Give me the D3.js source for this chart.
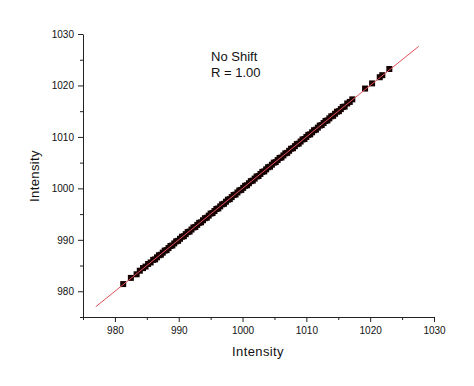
<!DOCTYPE html>
<html>
<head>
<meta charset="utf-8">
<script src="https://cdn.jsdelivr.net/npm/d3@7"></script>
<style>
body { margin: 0; background: #fff; }
text { font-family: "Liberation Sans", Arial, sans-serif; fill: #111; }
</style>
</head>
<body>
<svg width="474" height="386"></svg>
<script>
// measured intensity (x) vs reference intensity (y)
var xVals = [981.3, 982.5, 983.4, 983.9, 984.4, 984.8, 985.2, 985.6,
	986.0, 986.3, 986.6, 986.9, 987.2, 987.5, 987.8, 988.1, 988.4, 988.7,
	989.0, 989.3, 989.6, 989.9, 990.2, 990.5, 990.8, 991.1, 991.4, 991.7,
	992.0, 992.3, 992.6, 992.9, 993.2, 993.5, 993.8, 994.1, 994.4, 994.7,
	995.0, 995.3, 995.6, 995.9, 996.2, 996.5, 996.8, 997.1, 997.4, 997.7,
	998.0, 998.3, 998.6, 998.9, 999.2, 999.5, 999.8, 1000.1, 1000.4, 1000.7,
	1001.0, 1001.3, 1001.6, 1001.9, 1002.2, 1002.5, 1002.8, 1003.1, 1003.4, 1003.7,
	1004.0, 1004.3, 1004.6, 1004.9, 1005.2, 1005.5, 1005.8, 1006.1, 1006.4, 1006.7,
	1007.0, 1007.3, 1007.6, 1007.9, 1008.2, 1008.5, 1008.8, 1009.1, 1009.4, 1009.7,
	1010.0, 1010.3, 1010.6, 1010.9, 1011.2, 1011.5, 1011.8, 1012.1, 1012.4, 1012.7,
	1013.0, 1013.3, 1013.6, 1013.9, 1014.2, 1014.5, 1014.8, 1015.1, 1015.4, 1015.7,
	1016.0, 1016.4, 1016.8, 1017.2, 1019.2, 1020.3, 1021.5, 1021.9, 1023.0];
var yVals = [981.4, 982.6, 983.3, 984.0, 984.5, 984.8, 985.3, 985.6,
	986.1, 986.2, 986.6, 987.0, 987.1, 987.5, 987.9, 988.0, 988.4, 988.8,
	988.9, 989.3, 989.7, 989.8, 990.2, 990.6, 990.7, 991.1, 991.5, 991.6,
	992.0, 992.4, 992.5, 992.9, 993.3, 993.4, 993.8, 994.2, 994.3, 994.7,
	995.1, 995.2, 995.6, 996.0, 996.1, 996.5, 996.9, 997.0, 997.4, 997.8,
	997.9, 998.3, 998.7, 998.8, 999.2, 999.6, 999.7, 1000.1, 1000.5, 1000.6,
	1001.0, 1001.4, 1001.5, 1001.9, 1002.3, 1002.4, 1002.8, 1003.2, 1003.3, 1003.7,
	1004.1, 1004.2, 1004.6, 1005.0, 1005.1, 1005.5, 1005.9, 1006.0, 1006.4, 1006.8,
	1006.9, 1007.3, 1007.7, 1007.8, 1008.2, 1008.6, 1008.7, 1009.1, 1009.5, 1009.6,
	1010.0, 1010.4, 1010.5, 1010.9, 1011.3, 1011.4, 1011.8, 1012.2, 1012.3, 1012.7,
	1013.1, 1013.2, 1013.6, 1014.0, 1014.1, 1014.5, 1014.9, 1015.0, 1015.4, 1015.8,
	1015.9, 1016.5, 1016.8, 1017.3, 1019.4, 1020.4, 1021.6, 1022.0, 1023.2];
var fitLine = [977.0, 1027.6];
var majorTicks = [980, 990, 1000, 1010, 1020, 1030];
var minorTicks = [975, 985, 995, 1005, 1015, 1025];
var noteLines = ["No Shift", "R = 1.00"];

var svg = d3.select("svg");

var x = d3.scaleLinear().domain([975, 1030]).range([83, 434]);
var y = d3.scaleLinear().domain([975, 1030]).range([317, 34]);

var points = xVals.map(function (d, i) { return [d, yVals[i]]; });

// points
svg.append("g")
	.selectAll("rect")
	.data(points)
	.enter().append("rect")
	.attr("x", function (d) { return x(d[0]) - 3; })
	.attr("y", function (d) { return y(d[1]) - 3; })
	.attr("width", 6)
	.attr("height", 6)
	.style("fill", "#150000");

// fit line
svg.append("line")
	.attr("x1", x(fitLine[0]))
	.attr("y1", y(fitLine[0]))
	.attr("x2", x(fitLine[1]))
	.attr("y2", y(fitLine[1]))
	.style("stroke", "#e0505a")
	.style("stroke-width", 1);

// x axis
var xAxis = svg.append("g")
	.attr("transform", "translate(0,317)")
	.call(d3.axisBottom(x).tickValues(majorTicks).tickSize(5).tickSizeOuter(0).tickFormat(d3.format("d")));
svg.append("g")
	.attr("transform", "translate(0,317)")
	.call(d3.axisBottom(x).tickValues(minorTicks).tickSize(3).tickSizeOuter(0).tickFormat(""))
	.select(".domain").remove();

// y axis
var yAxis = svg.append("g")
	.attr("transform", "translate(83,0)")
	.call(d3.axisLeft(y).tickValues(majorTicks).tickSize(5).tickSizeOuter(0).tickFormat(d3.format("d")));
svg.append("g")
	.attr("transform", "translate(83,0)")
	.call(d3.axisLeft(y).tickValues(minorTicks).tickSize(3).tickSizeOuter(0).tickFormat(""))
	.select(".domain").remove();

svg.selectAll(".domain, .tick line").style("stroke", "#222");
svg.selectAll(".tick text")
	.style("font-family", "'Liberation Sans', Arial, sans-serif")
	.style("font-size", "10px")
	.style("fill", "#111");
xAxis.selectAll(".tick text").attr("dy", "0.71em").attr("y", 10);
yAxis.selectAll(".tick text").attr("x", -9);

// axis titles
svg.append("text")
	.attr("x", 258)
	.attr("y", 356)
	.attr("text-anchor", "middle")
	.style("font-size", "13px")
	.style("letter-spacing", "0.4px")
	.text("Intensity");

svg.append("text")
	.attr("transform", "translate(39,176) rotate(-90)")
	.attr("text-anchor", "middle")
	.style("font-size", "13px")
	.style("letter-spacing", "0.4px")
	.text("Intensity");

// annotation
svg.append("g")
	.selectAll("text")
	.data(noteLines)
	.enter().append("text")
	.attr("x", 211)
	.attr("y", function (d, i) { return 61 + i * 16; })
	.style("font-size", "13px")
	.text(function (d) { return d; });
</script>
</body>
</html>
